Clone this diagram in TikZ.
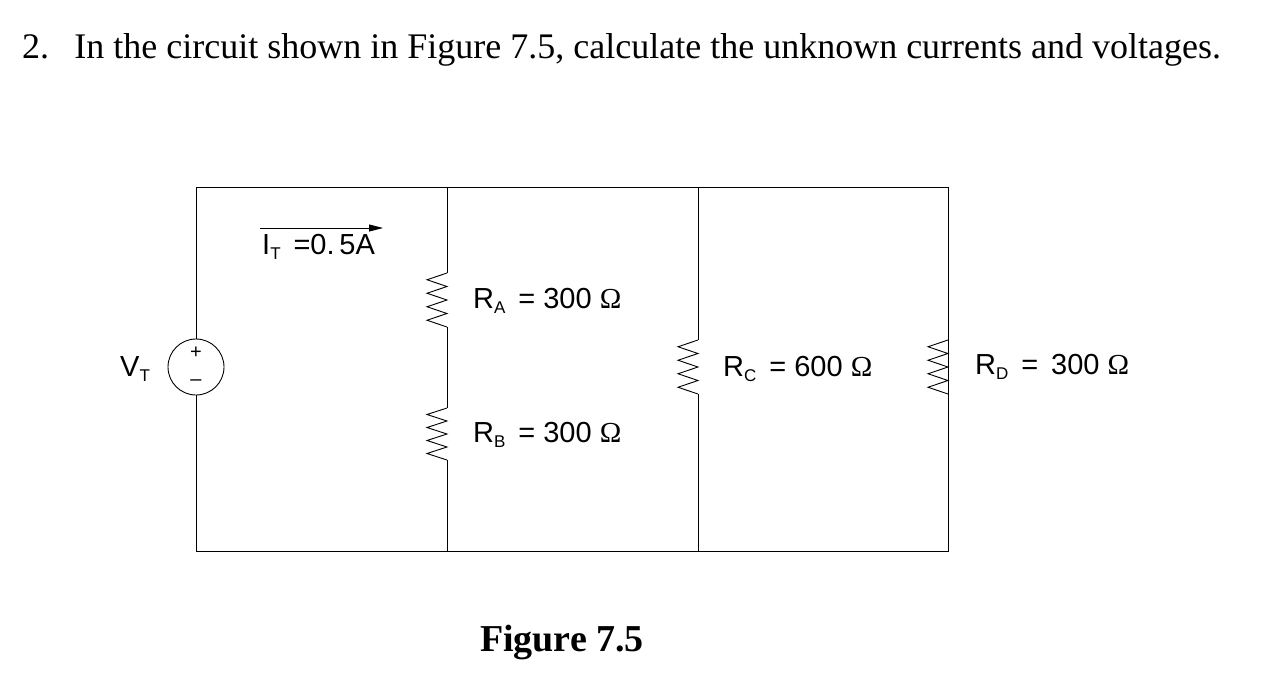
\documentclass[tikz,border=0pt]{standalone}
\usepackage{fontspec}
\setmainfont{Liberation Serif}
\newfontfamily\lab{Liberation Sans}
\newfontfamily\om{Liberation Serif}
\usetikzlibrary{arrows.meta}
\tikzset{wire/.style={line width=0.9pt},
 lbl/.style={font=\lab\fontsize{29}{32}\selectfont, anchor=west, inner sep=0pt}}
\newcommand{\mysub}[1]{\raisebox{-0.3ex}{\fontsize{17}{18}\selectfont #1}}
\newcommand{\Om}{{\om Ω}}
\newcommand{\zz}[4]{% name x y1 y2
 \draw[wire] (#2,#3) coordinate(#1t)
  \foreach \k in {1,3,5,7} {-- ({#2-20},{#3+\k*(#4-#3)/8}) -- (#2,{#3+(\k+1)*(#4-#3)/8})}
  coordinate(#1b);}
\begin{document}
\begin{tikzpicture}[x=1pt,y=-1pt]
\useasboundingbox (0,0) rectangle (1265,688);
\node[anchor=base west,inner sep=0pt,font=\fontsize{36}{40}\selectfont] (title) at (22,58) {2.\hspace{0.7em}In the circuit shown in Figure 7.5, calculate the unknown currents and voltages.};
\coordinate (tl) at (196,187); \coordinate (tr) at (948,187);
\coordinate (bl) at (196,551); \coordinate (br) at (948,551);
\coordinate (t2) at (447,187); \coordinate (t3) at (698,187);
\coordinate (b2) at (447,551); \coordinate (b3) at (698,551);
\node[circle,draw,wire,minimum size=56pt,inner sep=0pt] (src) at (196,367) {};
\node[font=\lab\fontsize{20}{20}\selectfont,inner sep=0pt] (plus) at (196,353) {+};
\node[font=\lab\fontsize{20}{20}\selectfont,inner sep=0pt] (minus) at (196,383) {\textendash};
\draw[wire] (src.north) -- (tl) -- (tr) -- (br) -- (bl) -- (src.south);
\zz{ra}{447}{273}{327}
\zz{rb}{447}{408}{460}
\zz{rc}{698}{340}{394}
\zz{rd}{948}{340}{394}
\draw[wire] (t2) -- (rat); \draw[wire] (rab) -- (rbt); \draw[wire] (rbb) -- (b2);
\draw[wire] (t3) -- (rct); \draw[wire] (rcb) -- (b3);
\draw[wire] (tr) -- (rdt); \draw[wire] (rdb) -- (br);
\node[lbl] (vt) at (120,369) {V\mysub{T}};
\coordinate (as) at (260,228); \coordinate (ae) at (383,228);
\draw[wire,-{Triangle[length=14pt,width=7pt]}] (as) -- (ae);
\node[lbl] (it) at (262,247) {I\mysub{T}\, =0.\,5A};
\node[lbl] (la) at (473,301) {R\mysub{A}\, = 300 \Om};
\node[lbl] (lb) at (473,435) {R\mysub{B}\, = 300 \Om};
\node[lbl] (lc) at (723,369) {R\mysub{C}\, = 600 \Om};
\node[lbl] (ld) at (975,367) {R\mysub{D}\, =\, 300 \Om};
\node[font=\bfseries\fontsize{38}{42}\selectfont,inner sep=0pt] (fig) at (562,643) {Figure 7.5};
\end{tikzpicture}
\end{document}
